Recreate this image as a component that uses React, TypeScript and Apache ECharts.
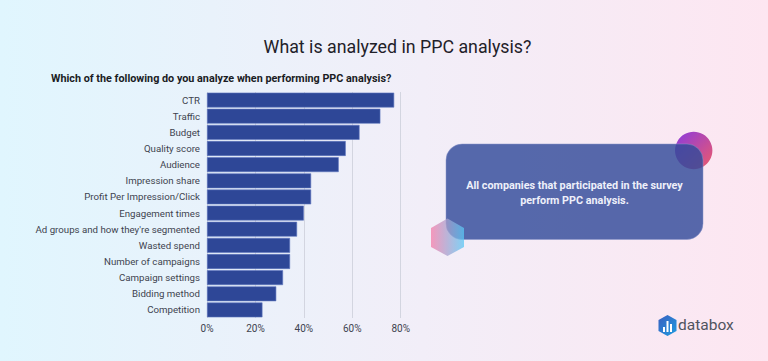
import React, { useEffect, useRef } from "react";
import * as echarts from "echarts";

const categories = ["CTR", "Traffic", "Budget", "Quality score", "Audience", "Impression share", "Profit Per Impression/Click", "Engagement times", "Ad groups and how they're segmented", "Wasted spend", "Number of campaigns", "Campaign settings", "Bidding method", "Competition"];
const values = [77.3, 71.6, 63, 57.3, 54.4, 43, 43, 40, 37.2, 34.3, 34.3, 31.4, 28.6, 22.9];
const xTicks = [0, 20, 40, 60, 80];
const titleText = "What is analyzed in PPC analysis?";
const subtitleText = "Which of the following do you analyze when performing PPC analysis?";
const calloutText = "All companies that participated in the survey\nperform PPC analysis.";
const FONT = "Roboto";

echarts.graphic.registerShape("hexLogo", echarts.graphic.extendPath("M10 0L19 5V16L10 21L1 16V5Z", {}));

export default function App() {
  const ref = useRef<HTMLDivElement>(null);
  useEffect(() => {
    const chart = echarts.init(ref.current!, null, { renderer: "svg" });
    chart.setOption({
      animation: false,
      backgroundColor: "transparent",
      grid: { left: 207, top: 92, width: 193.7, height: 226, containLabel: false },
      xAxis: {
        type: "value", min: 0, max: 80, interval: 20,
        axisLine: { show: false }, axisTick: { show: false },
        splitLine: { show: true, lineStyle: { color: "#d3d5e0", width: 1 } },
        axisLabel: { formatter: (v: number) => (xTicks.includes(v) ? v + "%" : ""), color: "#40434f", fontFamily: FONT, fontSize: 10, margin: 5 },
      },
      yAxis: {
        type: "category", inverse: true, data: categories,
        axisLine: { show: false }, axisTick: { show: false },
        axisLabel: { color: "#40434f", fontFamily: FONT, fontSize: 9.7, margin: 7 },
      },
      series: [{
        type: "bar", data: values, barCategoryGap: "8%",
        itemStyle: { color: "#2e4797", borderColor: "#5f77c0", borderWidth: 0.6 },
      }],
      graphic: [
        { type: "text", x: 397.5, y: 46, style: { text: titleText, font: `400 17.8px ${FONT}`, fill: "#1f2129", align: "center", verticalAlign: "middle" } },
        { type: "text", x: 51, y: 78, style: { text: subtitleText, font: `700 10.8px ${FONT}`, fill: "#1a1c24", align: "left", verticalAlign: "middle" } },
        { type: "circle", shape: { cx: 693.7, cy: 150.5, r: 18.7 }, style: { fill: new echarts.graphic.LinearGradient(0, 0, 1, 1, [{ offset: 0, color: "#8a3be0" }, { offset: 1, color: "#ee5a6a" }]) } },
        { type: "rect", shape: { x: 446, y: 144, width: 257, height: 95.5, r: 16 }, style: { fill: "#324a9a", opacity: 0.82, stroke: "#8a97cc", lineWidth: 0.6 } },
        { type: "polygon", shape: { points: [[447.5, 218.5], [464, 228], [464, 247], [447.5, 256], [431, 247], [431, 228]] }, style: { opacity: 0.75, fill: new echarts.graphic.LinearGradient(0, 0, 1, 0, [{ offset: 0, color: "#f57ba8" }, { offset: 1, color: "#58c8f5" }]) } },
        { type: "text", x: 574.5, y: 193, style: { text: calloutText, font: `700 10.8px ${FONT}`, fill: "#eef0fa", align: "center", verticalAlign: "middle", lineHeight: 14.5 } },
        { type: "hexLogo", x: 657.5, y: 315, style: { fill: new echarts.graphic.LinearGradient(0, 0, 1, 1, [{ offset: 0, color: "#3a5fc0" }, { offset: 1, color: "#1f9be0" }]) } },
        { type: "rect", shape: { x: 663, y: 327, width: 2, height: 5 }, style: { fill: "#ffffff" } },
        { type: "rect", shape: { x: 666.5, y: 321, width: 2, height: 11 }, style: { fill: "#ffffff" } },
        { type: "rect", shape: { x: 670, y: 324, width: 2, height: 8 }, style: { fill: "#ffffff" } },
        { type: "text", x: 678, y: 325, style: { text: "databox", font: `400 15.5px ${FONT}`, fill: "#50545f", align: "left", verticalAlign: "middle" } },
      ],
    });
    return () => chart.dispose();
  }, []);
  return (
    <div
      ref={ref}
      style={{ position: "fixed", left: 0, top: 0, width: 768, height: 361, background: "linear-gradient(90deg, #e0f6fe 0%, #f2eef8 55%, #fde6f1 100%)" }}
    />
  );
}
